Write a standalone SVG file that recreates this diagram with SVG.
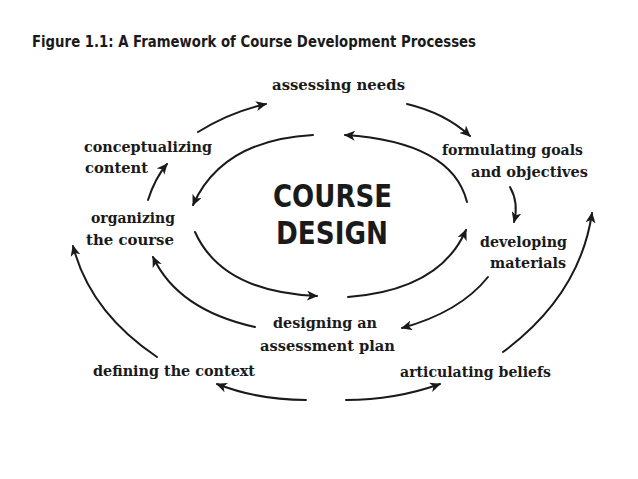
<svg xmlns="http://www.w3.org/2000/svg" width="638" height="479" viewBox="0 0 638 479">
<style>
.lbl{font-family:"DejaVu Serif","Liberation Serif",serif;font-weight:bold;font-size:14.5px;fill:#1a1a1a}
.ttl{font-family:"DejaVu Sans","Liberation Sans",sans-serif;font-stretch:condensed;font-weight:bold;font-size:15px;fill:#1a1a1a}
.big{font-family:"DejaVu Sans","Liberation Sans",sans-serif;font-stretch:condensed;font-weight:bold;font-size:32px;fill:#1a1a1a}
.arr{fill:none;stroke:#1a1a1a;stroke-width:2;stroke-linecap:round;marker-end:url(#ah)}
</style>
<defs>
<marker id="ah" viewBox="0 0 12 10" refX="10" refY="5" markerWidth="12" markerHeight="10" markerUnits="userSpaceOnUse" orient="auto">
<path d="M0,0 L11,5 L0,10 L3,5 z" fill="#1a1a1a"/>
</marker>
</defs>
<rect width="638" height="479" fill="#ffffff"/>
<text class="ttl" x="32" y="47" textLength="444" lengthAdjust="spacingAndGlyphs">Figure 1.1:  A Framework of Course Development Processes</text>

<g id="center">
<text class="big" x="273" y="207" textLength="119" lengthAdjust="spacingAndGlyphs">COURSE</text>
<text class="big" x="276" y="244" textLength="112" lengthAdjust="spacingAndGlyphs">DESIGN</text>
</g>
<g id="assessing-needs"><text class="lbl" x="272" y="90" textLength="133" lengthAdjust="spacingAndGlyphs">assessing needs</text></g>
<g id="formulating-goals">
<text class="lbl" x="442" y="155" textLength="141" lengthAdjust="spacingAndGlyphs">formulating goals</text>
<text class="lbl" x="471" y="177" textLength="117" lengthAdjust="spacingAndGlyphs">and objectives</text>
</g>
<g id="developing-materials">
<text class="lbl" x="480" y="247" textLength="87" lengthAdjust="spacingAndGlyphs">developing</text>
<text class="lbl" x="490" y="268" textLength="76" lengthAdjust="spacingAndGlyphs">materials</text>
</g>
<g id="designing-assessment">
<text class="lbl" x="273" y="328" textLength="104" lengthAdjust="spacingAndGlyphs">designing an</text>
<text class="lbl" x="260" y="351" textLength="135" lengthAdjust="spacingAndGlyphs">assessment plan</text>
</g>
<g id="organizing-course">
<text class="lbl" x="91" y="223" textLength="84" lengthAdjust="spacingAndGlyphs">organizing</text>
<text class="lbl" x="86" y="245" textLength="88" lengthAdjust="spacingAndGlyphs">the course</text>
</g>
<g id="conceptualizing-content">
<text class="lbl" x="84" y="152" textLength="128" lengthAdjust="spacingAndGlyphs">conceptualizing</text>
<text class="lbl" x="85" y="173" textLength="63" lengthAdjust="spacingAndGlyphs">content</text>
</g>
<g id="defining-context"><text class="lbl" x="93" y="376" textLength="162" lengthAdjust="spacingAndGlyphs">defining the context</text></g>
<g id="articulating-beliefs"><text class="lbl" x="400" y="377" textLength="151" lengthAdjust="spacingAndGlyphs">articulating beliefs</text></g>

<g id="connectors">
<path class="arr" d="M467,202 Q452,142 345,135"/>
<path class="arr" d="M313,135 Q222,140 193,205"/>
<path class="arr" d="M195,232 Q222,292 317,296"/>
<path class="arr" d="M348,297 Q440,290 466,230"/>
<path class="arr" d="M407,104 Q445,113 470,136"/>
<path class="arr" d="M510,187 Q519,203 514,222"/>
<path class="arr" d="M488,277 Q460,312 402,328"/>
<path class="arr" d="M255,327 Q178,310 153,257"/>
<path class="arr" d="M148,200 Q155,178 167,164"/>
<path class="arr" d="M198,132 Q230,112 266,104"/>
<path class="arr" d="M157,357 Q90,312 73,246"/>
<path class="arr" d="M306,400 Q258,400 217,384"/>
<path class="arr" d="M346,400 Q395,400 440,384"/>
<path class="arr" d="M503,352 Q580,295 592,213"/>
</g>
</svg>
